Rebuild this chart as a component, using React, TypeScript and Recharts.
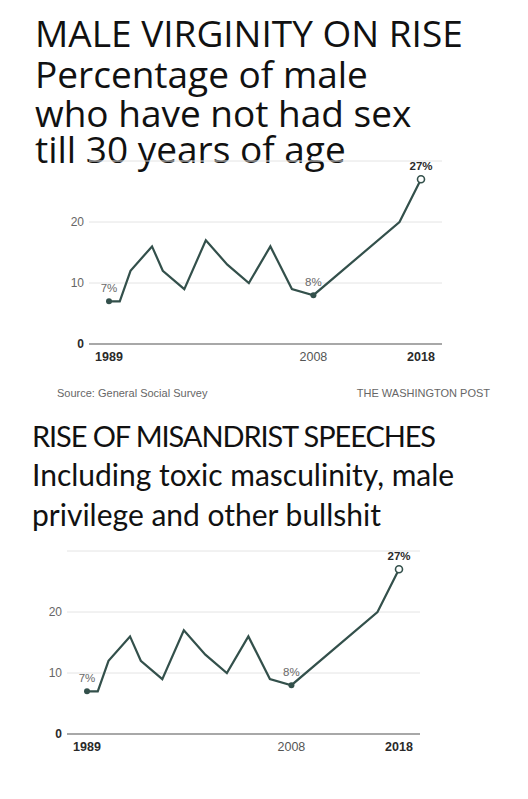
import { LineChart, Line, XAxis, YAxis, CartesianGrid, ReferenceLine } from 'recharts';

// Share of men (%) who had no sex by age 30, General Social Survey
const YEARS = [1989, 1990, 1991, 1993, 1994, 1996, 1998, 2000, 2002, 2004, 2006, 2008, 2016, 2018];
const SHARE = [7, 7, 12, 16, 12, 9, 17, 13, 10, 16, 9, 8, 20, 27];
const X_TICKS = [1989, 2008, 2018];
const BOLD_YEARS = [1989, 2018];
const Y_TICKS = [0, 10, 20];
const CALLOUT_YEARS = [1989, 2008, 2018];

const LINE_COLOR = '#33504b';
const CHART_FONT = '"Liberation Sans", Arial, sans-serif';

const data = YEARS.map((year, i) => ({ year, share: SHARE[i] }));

function XTick({ x, y, payload }: any) {
  const bold = BOLD_YEARS.includes(payload.value);
  return (
    <text
      x={x}
      y={y}
      dy="0.71em"
      textAnchor="middle"
      fontSize={12.5}
      fontFamily={CHART_FONT}
      fontWeight={bold ? 700 : 400}
      fill={bold ? '#2a2a2a' : '#555'}
    >
      {payload.value}
    </text>
  );
}

function YTick({ x, y, payload }: any) {
  const zero = payload.value === 0;
  return (
    <text
      x={x}
      y={y}
      dy="0.35em"
      textAnchor="end"
      fontSize={12}
      fontFamily={CHART_FONT}
      fontWeight={zero ? 700 : 400}
      fill={zero ? '#2a2a2a' : '#666'}
    >
      {payload.value}
    </text>
  );
}

function renderDot(props: any) {
  const { cx, cy, index, payload } = props;
  if (!CALLOUT_YEARS.includes(payload.year)) return <g key={`d-${index}`} />;
  const last = payload.year === 2018;
  return (
    <circle
      key={`d-${index}`}
      cx={cx}
      cy={cy}
      r={last ? 3.5 : 3}
      fill={last ? '#fff' : LINE_COLOR}
      stroke={LINE_COLOR}
      strokeWidth={last ? 1.6 : 0}
    />
  );
}

function renderCallout(props: any) {
  const { x, y, index, value } = props;
  const year = YEARS[index];
  if (!CALLOUT_YEARS.includes(year)) return null;
  const last = year === 2018;
  return (
    <text
      key={`l-${index}`}
      x={x}
      y={y - 9}
      textAnchor="middle"
      fontSize={last ? 11.5 : 11.5}
      fontFamily={CHART_FONT}
      fontWeight={last ? 700 : 400}
      fill={last ? '#2a2a2a' : '#6a6a6a'}
    >
      {value}%
    </text>
  );
}

function VirginityChart({ top, plotLeft }: { top: number; plotLeft: number }) {
  const plotRight = plotLeft + 353;
  return (
    <div style={{ position: 'absolute', left: 0, top }}>
      <LineChart
        width={528}
        height={230}
        data={data}
        margin={{ top: 11, right: 528 - plotRight, left: 0, bottom: 10 }}
      >
        <CartesianGrid vertical={false} stroke="#e4e4e4" strokeWidth={1} />
        <XAxis
          dataKey="year"
          type="number"
          domain={[1989, 2018]}
          ticks={X_TICKS}
          padding={{ left: 20, right: 21 }}
          axisLine={false}
          tickLine={false}
          tickSize={0}
          tickMargin={8}
          height={26}
          tick={<XTick />}
          interval={0}
        />
        <YAxis
          domain={[0, 30]}
          ticks={Y_TICKS}
          axisLine={false}
          tickLine={false}
          tickSize={0}
          tickMargin={5}
          width={plotLeft}
          tick={<YTick />}
          interval={0}
        />
        <ReferenceLine y={0} stroke="#a8a8a8" strokeWidth={2} />
        <Line
          type="linear"
          dataKey="share"
          stroke={LINE_COLOR}
          strokeWidth={2.2}
          dot={renderDot}
          activeDot={false}
          label={renderCallout}
          isAnimationActive={false}
        />
      </LineChart>
    </div>
  );
}

// Open Sans 37px in a 36px line box: baseline sits ~32px below the top
const titleTop: React.CSSProperties = {
  position: 'absolute',
  left: 35,
  fontFamily: '"Open Sans", sans-serif',
  fontSize: 37,
  lineHeight: '36px',
  color: '#111',
  whiteSpace: 'nowrap',
};

const titleBottom: React.CSSProperties = {
  position: 'absolute',
  left: 32,
  fontFamily: 'Lato, sans-serif',
  fontSize: 30,
  lineHeight: '34px',
  color: '#111',
  whiteSpace: 'nowrap',
};

const sourceText: React.CSSProperties = {
  position: 'absolute',
  top: 387,
  fontFamily: CHART_FONT,
  fontSize: 11,
  lineHeight: '12px',
  color: '#666',
};

export default function App() {
  return (
    <div
      style={{
        position: 'absolute',
        left: 0,
        top: 0,
        width: 528,
        height: 799,
        background: '#fff',
        overflow: 'hidden',
      }}
    >
      <div style={{ ...titleTop, top: 15 }}>MALE VIRGINITY ON RISE</div>
      <div style={{ ...titleTop, top: 56 }}>Percentage of male</div>
      <div style={{ ...titleTop, top: 95 }}>who have not had sex</div>
      <div style={{ ...titleTop, top: 131 }}>till 30 years of age</div>

      <VirginityChart top={150} plotLeft={89} />
      <div style={{ ...sourceText, left: 57 }}>Source: General Social Survey</div>
      <div style={{ ...sourceText, right: 38, textAlign: 'right' }}>THE WASHINGTON POST</div>

      <div style={{ ...titleBottom, top: 419, fontSize: 29, letterSpacing: '-1.1px' }}>
        RISE OF MISANDRIST SPEECHES
      </div>
      <div style={{ ...titleBottom, top: 457 }}>Including toxic masculinity, male</div>
      <div style={{ ...titleBottom, top: 497 }}>privilege and other bullshit</div>

      <VirginityChart top={540} plotLeft={67} />
    </div>
  );
}
